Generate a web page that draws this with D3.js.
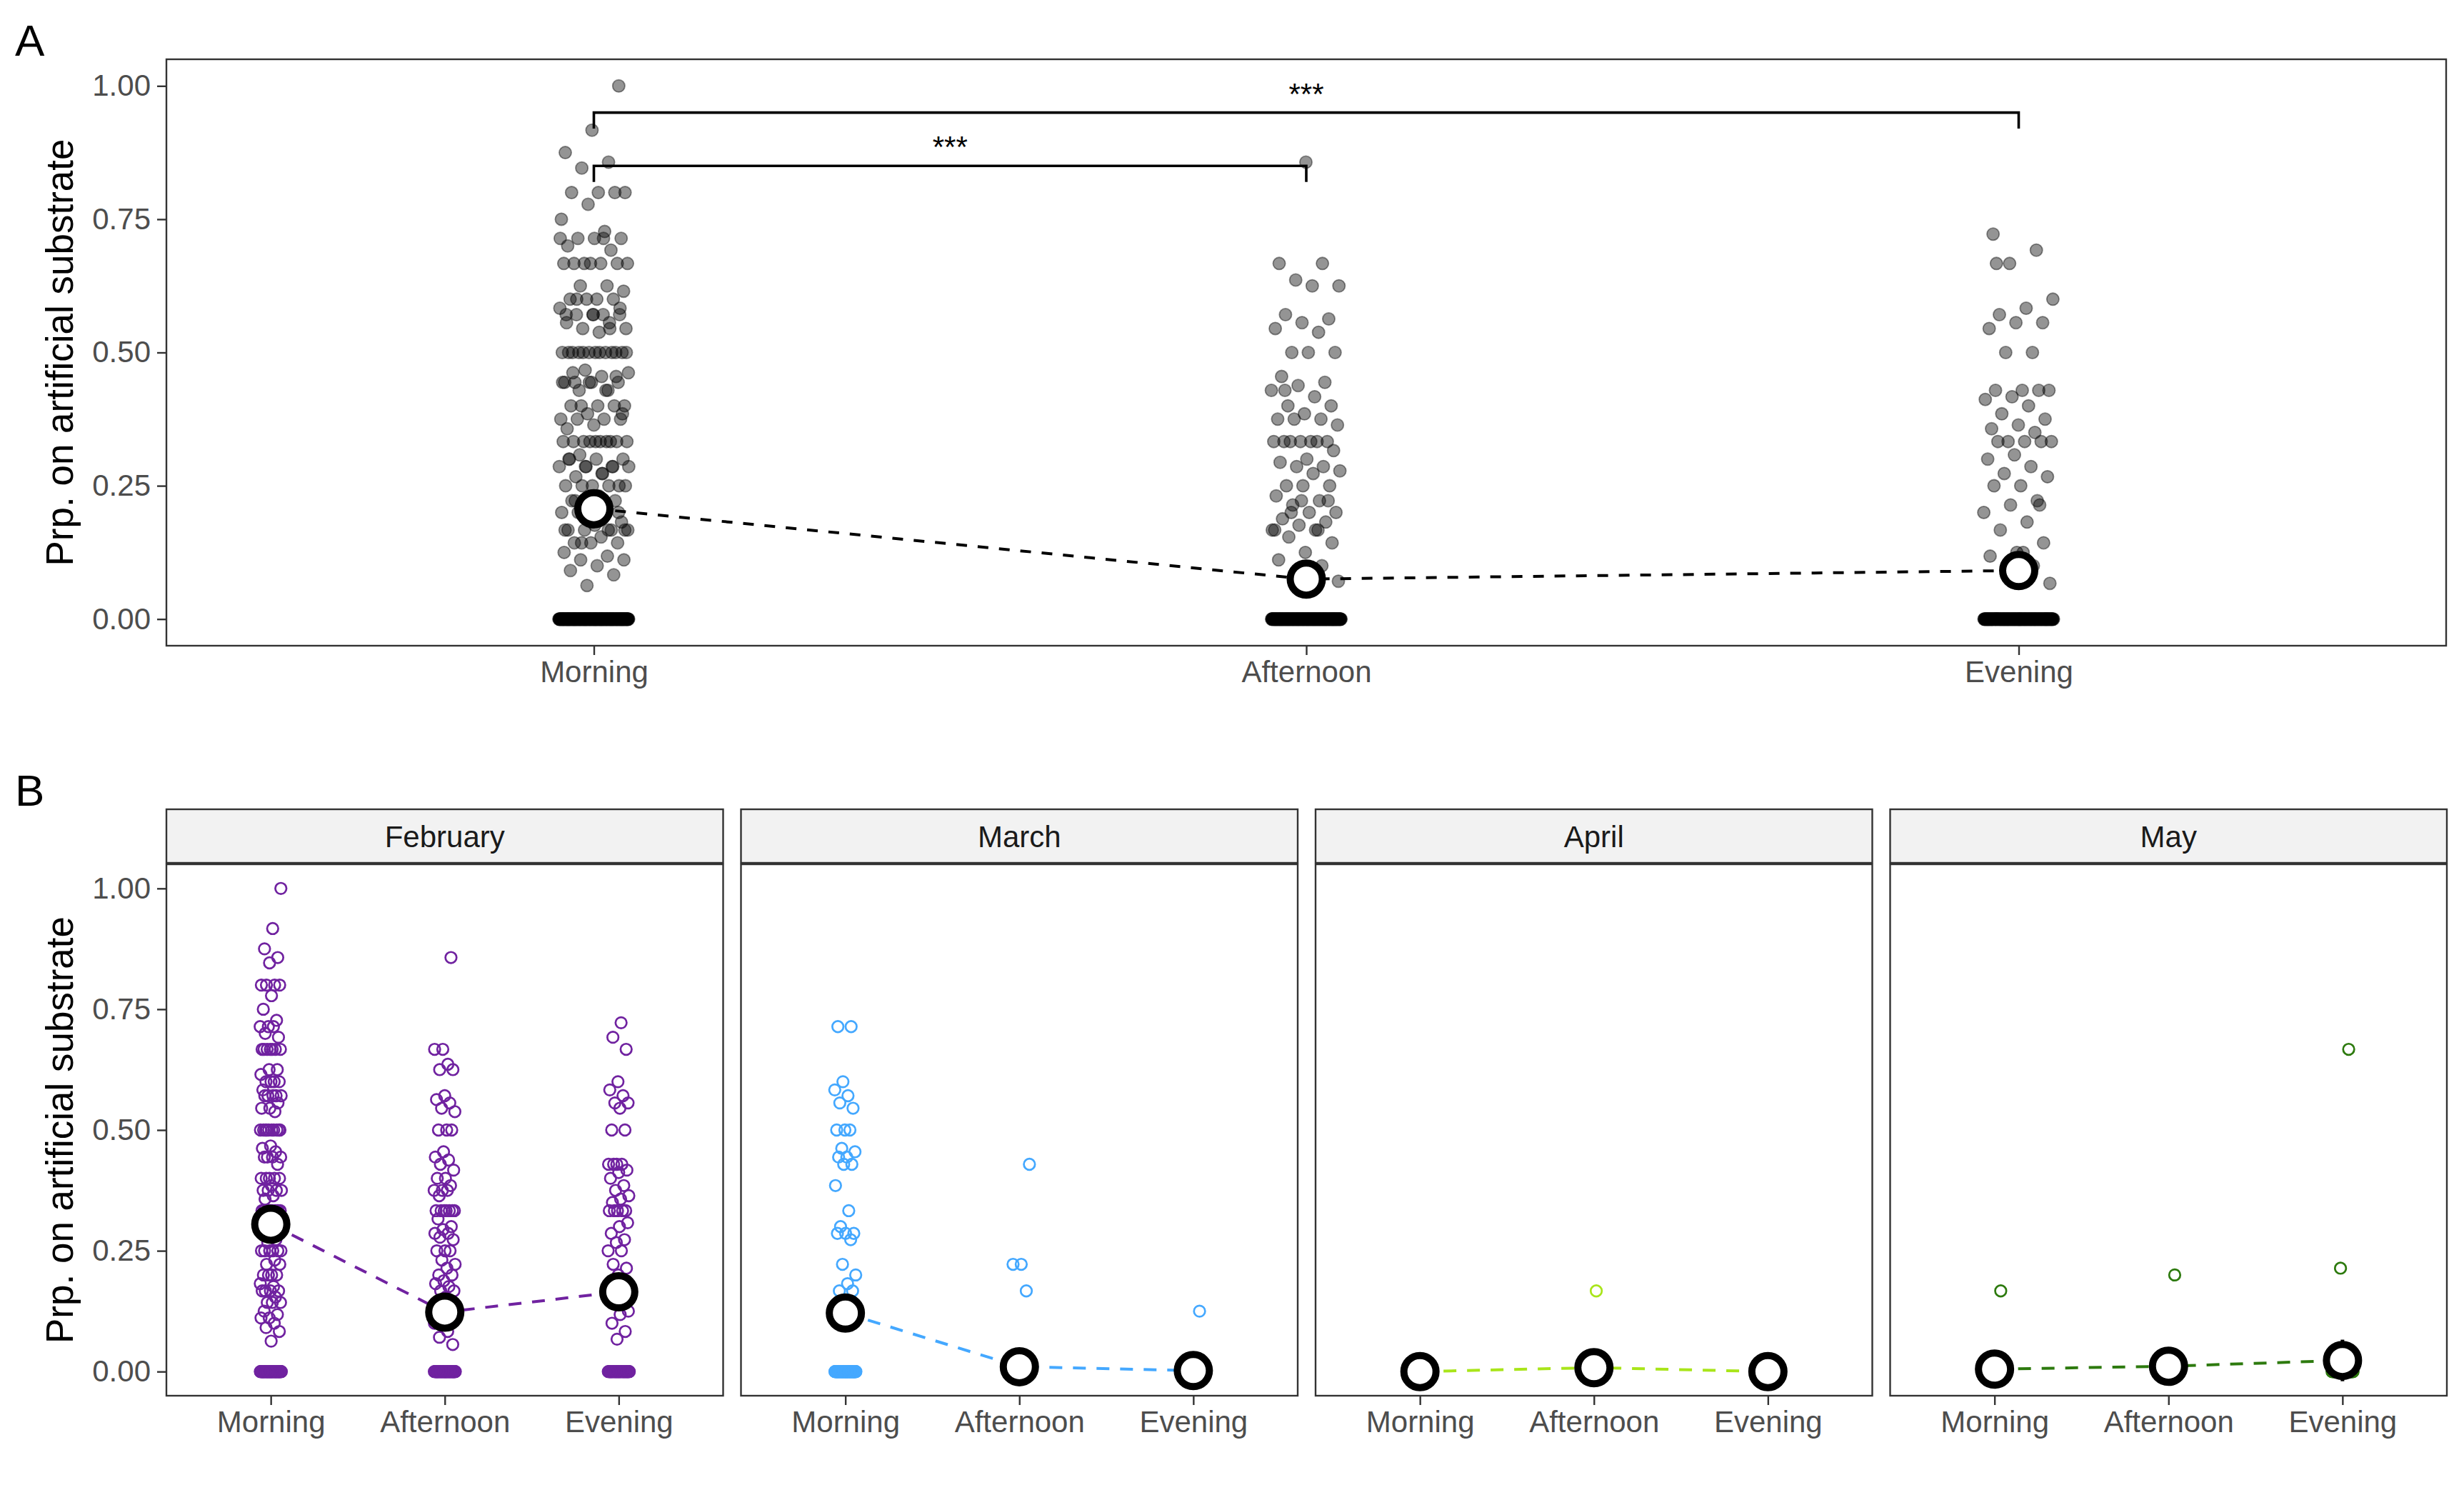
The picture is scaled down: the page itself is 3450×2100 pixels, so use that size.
<!DOCTYPE html>
<html>
<head>
<meta charset="utf-8">
<script src="https://cdn.jsdelivr.net/npm/d3@7"></script>
<style>
  body { margin: 0; background: #fff; }
  text { font-family: "Liberation Sans", Arial, sans-serif; }
</style>
</head>
<body>
<svg id="chart"></svg>
<script>
// ---- data ----
const times = ["Morning", "Afternoon", "Evening"];
const months = ["February", "March", "April", "May"];

// non-zero proportions per month and time of day
const febMorning = [1.0, 0.917, 0.875, 0.857, 0.846, 0.8, 0.8, 0.8, 0.8, 0.778, 0.75, 0.727, 0.714, 0.714, 0.714, 0.7, 0.692,
  0.667, 0.667, 0.667, 0.667, 0.667, 0.667, 0.667, 0.625, 0.625, 0.615, 0.6, 0.6, 0.6, 0.6, 0.583, 0.571, 0.571, 0.571,
  0.571, 0.571, 0.556, 0.545, 0.545, 0.538, 0.5, 0.5, 0.5, 0.5, 0.5, 0.5, 0.5, 0.5, 0.5, 0.5, 0.467, 0.462, 0.455, 0.444,
  0.444, 0.444, 0.444, 0.429, 0.4, 0.4, 0.4, 0.4, 0.4, 0.385, 0.375, 0.375, 0.375, 0.375, 0.364, 0.357, 0.333, 0.333,
  0.333, 0.333, 0.333, 0.333, 0.333, 0.333, 0.333, 0.308, 0.3, 0.3, 0.3, 0.286, 0.286, 0.286, 0.273, 0.267, 0.25, 0.25,
  0.25, 0.25, 0.25, 0.25, 0.231, 0.222, 0.222, 0.2, 0.2, 0.2, 0.2, 0.182, 0.176, 0.167, 0.167, 0.167, 0.167, 0.154, 0.143,
  0.143, 0.143, 0.125, 0.118, 0.111, 0.111, 0.1, 0.091, 0.083, 0.063];
const febAfternoon = [0.857, 0.667, 0.667, 0.636, 0.625, 0.625, 0.571, 0.563, 0.556, 0.545, 0.538, 0.5, 0.5, 0.5, 0.455,
  0.444, 0.438, 0.429, 0.417, 0.4, 0.4, 0.385, 0.375, 0.375, 0.375, 0.364, 0.333, 0.333, 0.333, 0.333, 0.333, 0.333,
  0.333, 0.316, 0.3, 0.294, 0.286, 0.286, 0.278, 0.273, 0.25, 0.25, 0.25, 0.231, 0.222, 0.214, 0.2, 0.2, 0.188, 0.182,
  0.176, 0.167, 0.167, 0.154, 0.143, 0.125, 0.111, 0.1, 0.083, 0.071, 0.056];
const febEvening = [0.722, 0.692, 0.667, 0.6, 0.583, 0.571, 0.556, 0.556, 0.545, 0.5, 0.5, 0.429, 0.429, 0.429, 0.429,
  0.417, 0.412, 0.4, 0.385, 0.375, 0.364, 0.357, 0.35, 0.333, 0.333, 0.333, 0.333, 0.333, 0.308, 0.3, 0.286, 0.273,
  0.267, 0.25, 0.25, 0.222, 0.214, 0.2, 0.182, 0.167, 0.143, 0.125, 0.118, 0.1, 0.083, 0.067];
const marMorning = [0.714, 0.714, 0.6, 0.583, 0.571, 0.556, 0.545, 0.5, 0.5, 0.5, 0.462, 0.455, 0.444, 0.444, 0.429,
  0.429, 0.385, 0.333, 0.3, 0.286, 0.286, 0.286, 0.273, 0.222, 0.2, 0.182, 0.167, 0.167, 0.143];
const marAfternoon = [0.429, 0.222, 0.222, 0.167];
const marEvening = [0.125];
const aprMorning = [];
const aprAfternoon = [0.167];
const aprEvening = [];
const mayMorning = [0.167];
const mayAfternoon = [0.2];
const mayEvening = [0.667, 0.214];

// number of zero observations (Morning, Afternoon, Evening) - they form the solid bar at 0
const febZeros = [60, 50, 40];
const marZeros = [70, 60, 50];
const aprZeros = [40, 40, 40];
const mayZeros = [50, 50, 50];

// summary points (mean) and standard errors
const meanAll = [0.207, 0.075, 0.091];
const meanFeb = [0.305, 0.123, 0.165];
const meanMar = [0.121, 0.01, 0.002];
const meanApr = [0.0, 0.008, 0.0];
const meanMay = [0.005, 0.011, 0.023];
const seFeb = [0.02, 0.015, 0.02];
const seMar = [0.025, 0.008, 0.002];
const seApr = [0.0, 0.007, 0.0];
const seMay = [0.004, 0.009, 0.043];

// significance brackets in panel A
const brackets = [
  { from: "Morning", to: "Evening", y: 0.95, tip: 0.92, label: "***" },
  { from: "Morning", to: "Afternoon", y: 0.85, tip: 0.82, label: "***" }
];

const monthColors = ["#7022A0", "#44A8FF", "#A9E51A", "#2D7A0E"];

// ---- assemble ----
const monthValues = [
  [febMorning, febAfternoon, febEvening],
  [marMorning, marAfternoon, marEvening],
  [aprMorning, aprAfternoon, aprEvening],
  [mayMorning, mayAfternoon, mayEvening]
];
const monthZeros = [febZeros, marZeros, aprZeros, mayZeros];
const monthMeans = [meanFeb, meanMar, meanApr, meanMay];
const monthSe = [seFeb, seMar, seApr, seMay];

function groupPoints(values, zeros) {
  // zeros first (drawn underneath), then the non-zero values
  const pts = [];
  times.forEach((t, ti) => {
    d3.range(zeros[ti]).forEach(() => pts.push({ time: t, v: 0 }));
    values[ti].forEach(v => pts.push({ time: t, v: v }));
  });
  return pts;
}

// deterministic jitter (golden ratio sequence), like position_jitter
function addJitter(pts) {
  const counter = {};
  pts.forEach(p => {
    const k = counter[p.time] = (counter[p.time] || 0) + 1;
    p.j = ((k * 0.6180339887 + 0.27) % 1) * 2 - 1;
  });
  return pts;
}

const W = 3450, H = 2100;
const svg = d3.select("#chart").attr("width", W).attr("height", H);
svg.append("rect").attr("width", W).attr("height", H).attr("fill", "#fff");

const borderColor = "#333333";
const tickColor = "#4D4D4D";

function styleAxis(g) {
  g.select(".domain").remove();
  g.selectAll(".tick line").attr("stroke", borderColor).attr("stroke-width", 2.4);
  g.selectAll(".tick text").attr("fill", tickColor).style("font-size", "42px")
    .style("font-family", "'Liberation Sans', Arial, sans-serif");
}

function drawPanel(g, opts) {
  const { x, y, pts, means, se, color, filled, jit, dash } = opts;
  const [x0, x1] = x.range();
  const [y1, y0] = y.range();

  g.append("rect").attr("x", x0).attr("y", y0).attr("width", x1 - x0).attr("height", y1 - y0)
    .attr("fill", "#fff");

  // raw observations
  const dots = g.append("g").selectAll("circle").data(pts).enter().append("circle")
    .attr("cx", d => x(d.time) + d.j * jit)
    .attr("cy", d => y(d.v));
  if (filled) {
    dots.attr("r", 8.6).attr("fill", "#000").attr("fill-opacity", 0.42)
      .attr("stroke", "#000").attr("stroke-opacity", 0.42).attr("stroke-width", 1.8);
  } else {
    dots.attr("r", 7.8).attr("fill", "none").attr("stroke", color).attr("stroke-width", 2.7);
  }

  // dashed line through the means
  const line = d3.line().x((d, i) => x(times[i])).y(d => y(d));
  g.append("path").datum(means).attr("d", line).attr("fill", "none")
    .attr("stroke", color).attr("stroke-width", 4).attr("stroke-dasharray", dash);

  // error bars
  if (se) {
    g.append("g").selectAll("line").data(means).enter().append("line")
      .attr("x1", (d, i) => x(times[i])).attr("x2", (d, i) => x(times[i]))
      .attr("y1", (d, i) => y(d - se[i])).attr("y2", (d, i) => y(d + se[i]))
      .attr("stroke", "#000").attr("stroke-width", 5);
  }

  // mean circles
  g.append("g").selectAll("circle").data(means).enter().append("circle")
    .attr("cx", (d, i) => x(times[i])).attr("cy", d => y(d))
    .attr("r", 22.5).attr("fill", "#fff").attr("stroke", "#000").attr("stroke-width", 10);

  g.append("rect").attr("x", x0).attr("y", y0).attr("width", x1 - x0).attr("height", y1 - y0)
    .attr("fill", "none").attr("stroke", borderColor).attr("stroke-width", 2.4);

  g.append("g").attr("transform", `translate(0,${y1})`)
    .call(d3.axisBottom(x).tickSize(13).tickPadding(8)).call(styleAxis);
}

function yAxis(g, y, x0) {
  g.append("g").attr("transform", `translate(${x0},0)`)
    .call(d3.axisLeft(y).tickValues([0, 0.25, 0.5, 0.75, 1]).tickFormat(d3.format(".2f"))
      .tickSize(13).tickPadding(9))
    .call(styleAxis);
}

function yTitle(yc) {
  svg.append("text").attr("transform", `translate(102,${yc}) rotate(-90)`)
    .attr("text-anchor", "middle").style("font-size", "53px").attr("fill", "#000")
    .text("Prp. on artificial substrate");
}

// ---- panel A ----
const xA = d3.scalePoint().domain(times).range([233, 3425]).padding(0.6);
const yA = d3.scaleLinear().domain([-0.05, 1.05]).range([904, 83]);

const ptsA = [];
times.forEach((t, ti) => {
  const zeros = d3.sum(monthZeros, z => z[ti]);
  d3.range(zeros).forEach(() => ptsA.push({ time: t, v: 0 }));
  monthValues.forEach(mv => mv[ti].forEach(v => ptsA.push({ time: t, v: v })));
});
addJitter(ptsA);

const gA = svg.append("g");
drawPanel(gA, { x: xA, y: yA, pts: ptsA, means: meanAll, se: null, color: "#000", filled: true, jit: 49, dash: "15,15" });
yAxis(gA, yA, 233);
yTitle((83 + 904) / 2);

// brackets
brackets.forEach(b => {
  const xa = xA(b.from), xb = xA(b.to);
  gA.append("path")
    .attr("d", `M${xa},${yA(b.tip)}V${yA(b.y)}H${xb}V${yA(b.tip)}`)
    .attr("fill", "none").attr("stroke", "#000").attr("stroke-width", 3.6);
  gA.append("text").attr("x", (xa + xb) / 2).attr("y", yA(b.y) - 12)
    .attr("text-anchor", "middle").style("font-size", "42px").attr("fill", "#000").text(b.label);
});

svg.append("text").attr("x", 21).attr("y", 78).style("font-size", "62px").attr("fill", "#000").text("A");

// ---- panel B ----
const bLeft = 233, bRight = 3426, bGap = 25;
const panelW = (bRight - bLeft - 3 * bGap) / 4;
const yB = d3.scaleLinear().domain([-0.05, 1.05]).range([1954, 1210]);
const stripTop = 1133, stripBottom = 1208;

months.forEach((m, mi) => {
  const px0 = bLeft + mi * (panelW + bGap);
  const xB = d3.scalePoint().domain(times).range([px0, px0 + panelW]).padding(0.6);
  const pts = addJitter(groupPoints(monthValues[mi], monthZeros[mi]));
  const g = svg.append("g");
  drawPanel(g, { x: xB, y: yB, pts: pts, means: monthMeans[mi], se: monthSe[mi], color: monthColors[mi],
    filled: false, jit: 15, dash: "18,15" });

  g.append("rect").attr("x", px0).attr("y", stripTop).attr("width", panelW).attr("height", stripBottom - stripTop)
    .attr("fill", "#F2F2F2").attr("stroke", borderColor).attr("stroke-width", 2.4);
  g.append("text").attr("x", px0 + panelW / 2).attr("y", 1186).attr("text-anchor", "middle")
    .style("font-size", "42px").attr("fill", "#1A1A1A").text(m);

  if (mi === 0) yAxis(g, yB, px0);
});
yTitle((1210 + 1954) / 2);

svg.append("text").attr("x", 21).attr("y", 1128).style("font-size", "62px").attr("fill", "#000").text("B");
</script>
</body>
</html>
